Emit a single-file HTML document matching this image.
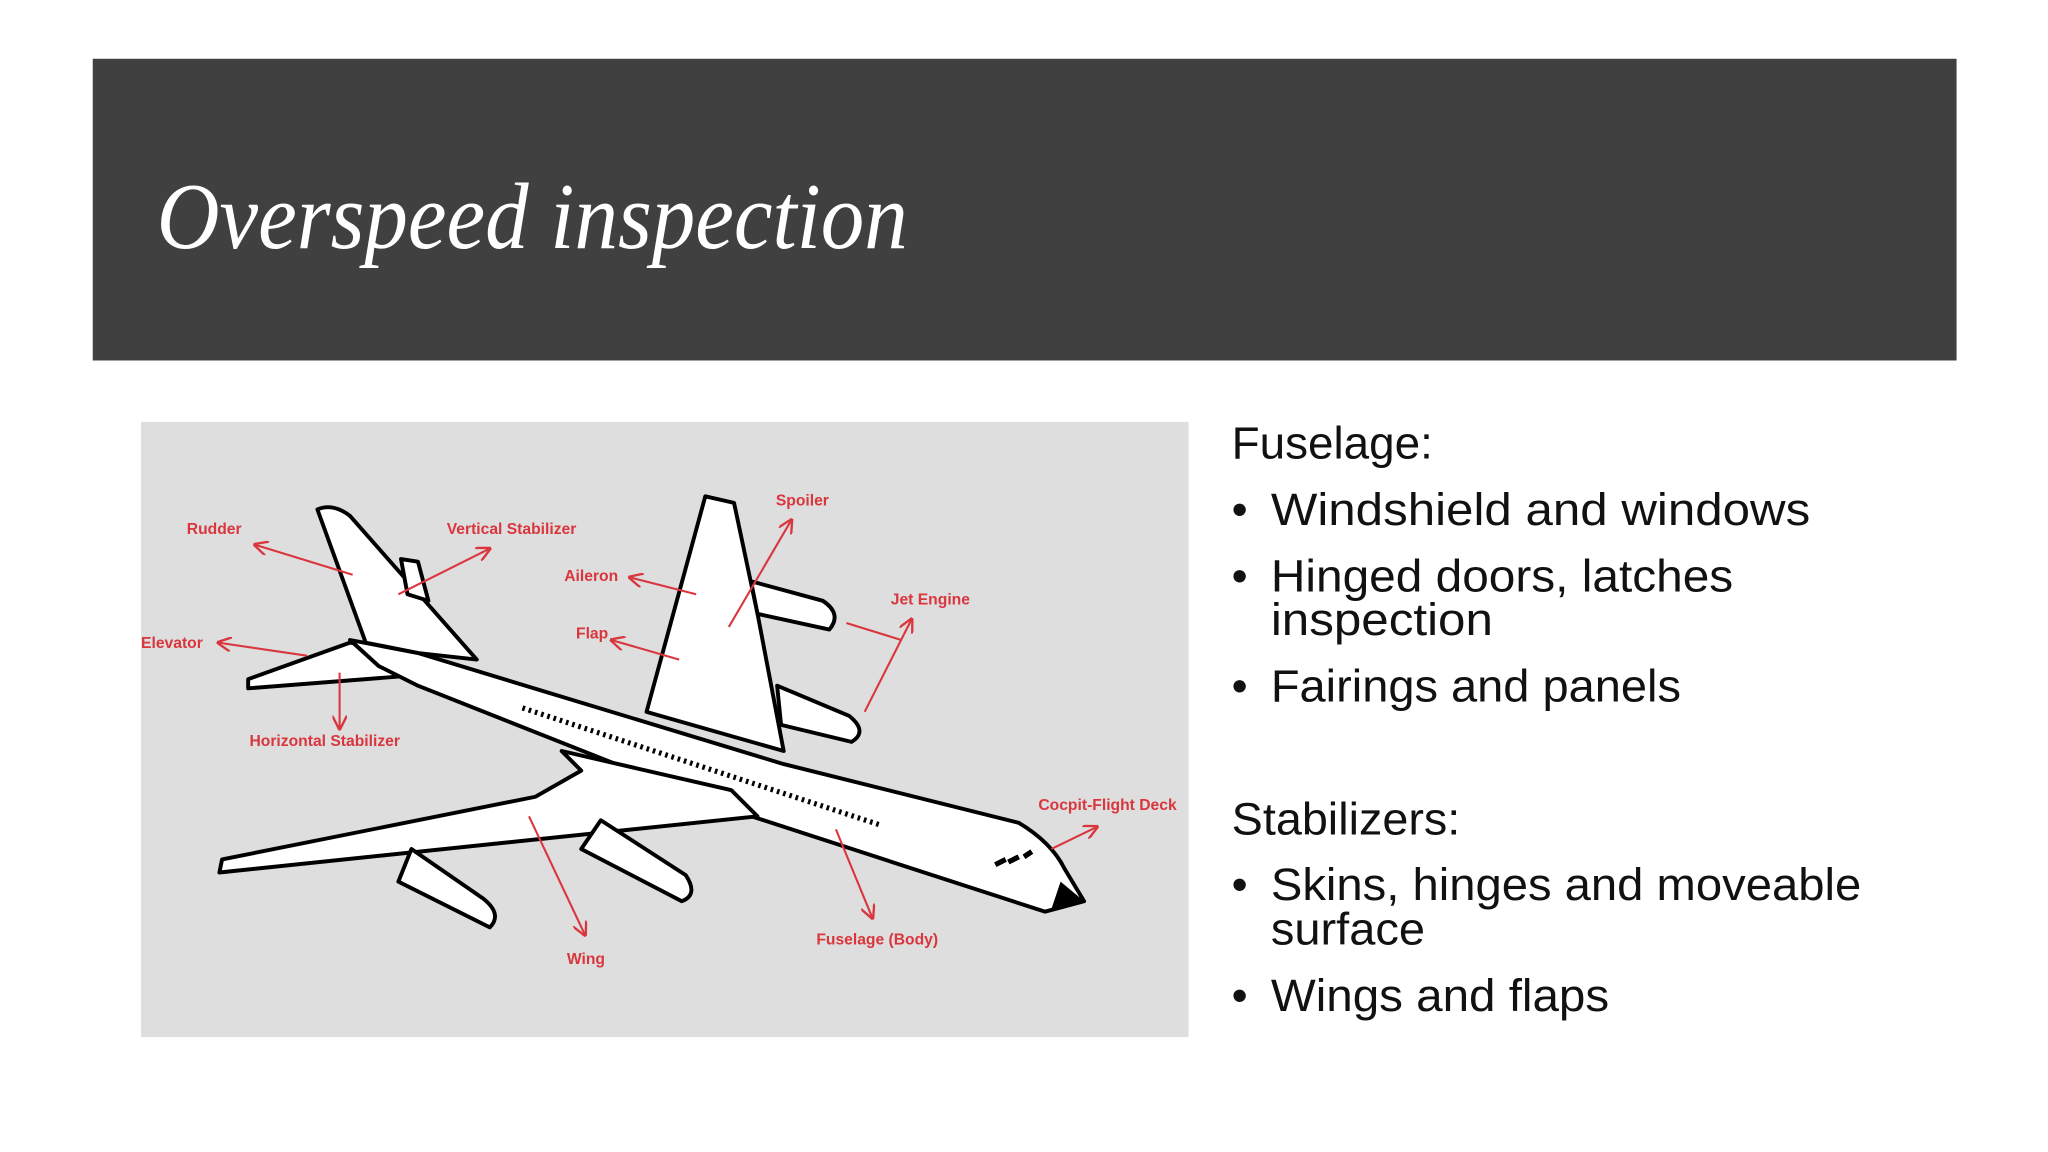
<!DOCTYPE html>
<html><head><meta charset="utf-8"><style>
html,body{margin:0;padding:0;background:#fff;width:2048px;height:1152px;overflow:hidden}
svg{display:block}
.l{font-family:"Liberation Sans",sans-serif;font-weight:bold;font-size:12px;fill:#d9363e}
.t{font-family:"Liberation Sans",sans-serif;font-size:35px;fill:#111}
</style></head><body>
<svg width="2048" height="1152" viewBox="0 0 1568 882" xmlns="http://www.w3.org/2000/svg">
<defs><marker id="a" viewBox="0 0 10 10" refX="9" refY="5" markerWidth="7" markerHeight="7" orient="auto-start-reverse"><path d="M0,0 L10,5 L0,10" fill="none" stroke="#d9363e" stroke-width="1.6"/></marker></defs>
<rect x="71" y="45" width="1427" height="231" fill="#404040"/>
<text x="120" y="190" font-family="Liberation Serif,serif" font-style="italic" font-size="72" fill="#fff" textLength="575" lengthAdjust="spacingAndGlyphs">Overspeed inspection</text>
<rect x="108" y="323" width="802" height="471" fill="#dedede"/>
<g stroke="#000" stroke-width="3" fill="#fff" stroke-linejoin="round">
<path d="M495,545 L540,380 L562,385 L580,470 L600,575 Z"/>
<path d="M575,445 L630,460 Q645,470 635,482 L580,470 Z"/>
<path d="M595,525 L650,548 Q665,560 652,568 L598,555 Z"/>
<path d="M243,390 Q255,385 268,395 L365,505 L320,500 L280,492 Z"/>
<path d="M307,428 L320,430 L328,460 L312,455 Z"/>
<path d="M190,520 L268,492 L310,500 L305,518 L190,527 Z"/>
<path d="M268,490 L320,500 L600,585 L780,630 Q805,645 815,665 L830,690 L800,698 L560,620 L320,525 L290,510 Z"/>
<path d="M430,575 L445,590 L410,610 L170,658 L168,668 L580,625 L560,605 Z"/>
<path d="M315,650 L370,688 Q385,700 375,710 L305,675 Z"/>
<path d="M460,628 L525,670 Q535,685 522,690 L445,650 Z"/>
</g>
<path d="M812,675 L830,690 L805,696 Z" fill="#000"/>
<path d="M400,542 L675,632" stroke="#000" stroke-width="4" stroke-dasharray="2,3"/>
<path d="M762,662 l8,-4 M772,660 l8,-4 M784,656 l6,-4" stroke="#000" stroke-width="4"/>
<g stroke="#d9363e" stroke-width="1.6" fill="none" marker-end="url(#a)">
<line x1="270" y1="440" x2="195" y2="417"/>
<line x1="305" y1="455" x2="375" y2="420"/>
<line x1="235" y1="502" x2="167" y2="492"/>
<line x1="260" y1="515" x2="260" y2="558"/>
<line x1="533" y1="455" x2="482" y2="442"/>
<line x1="520" y1="505" x2="468" y2="490"/>
<line x1="558" y1="480" x2="606" y2="398"/>
<line x1="662" y1="545" x2="698" y2="474"/>
<line x1="805" y1="650" x2="840" y2="633"/>
<line x1="640" y1="635" x2="668" y2="703"/>
<line x1="405" y1="625" x2="448" y2="716"/>
</g>
<line x1="648" y1="477" x2="690" y2="490" stroke="#d9363e" stroke-width="1.6"/>
<text class="l" x="143" y="409">Rudder</text>
<text class="l" x="342" y="409">Vertical Stabilizer</text>
<text class="l" x="594" y="387">Spoiler</text>
<text class="l" x="432" y="445">Aileron</text>
<text class="l" x="682" y="463">Jet Engine</text>
<text class="l" x="441" y="489">Flap</text>
<text class="l" x="108" y="496">Elevator</text>
<text class="l" x="191" y="571">Horizontal Stabilizer</text>
<text class="l" x="795" y="620">Cocpit-Flight Deck</text>
<text class="l" x="625" y="723">Fuselage (Body)</text>
<text class="l" x="434" y="738">Wing</text>
<text class="t" x="943" y="351" textLength="154" lengthAdjust="spacingAndGlyphs">Fuselage:</text>
<text class="t" x="943" y="402">•</text><text class="t" x="973" y="402" textLength="413" lengthAdjust="spacingAndGlyphs">Windshield and windows</text>
<text class="t" x="943" y="453">•</text><text class="t" x="973" y="453" textLength="354" lengthAdjust="spacingAndGlyphs">Hinged doors, latches</text>
<text class="t" x="973" y="486" textLength="170" lengthAdjust="spacingAndGlyphs">inspection</text>
<text class="t" x="943" y="537">•</text><text class="t" x="973" y="537" textLength="314" lengthAdjust="spacingAndGlyphs">Fairings and panels</text>
<text class="t" x="943" y="639" textLength="175" lengthAdjust="spacingAndGlyphs">Stabilizers:</text>
<text class="t" x="943" y="689">•</text><text class="t" x="973" y="689" textLength="452" lengthAdjust="spacingAndGlyphs">Skins, hinges and moveable</text>
<text class="t" x="973" y="723" textLength="118" lengthAdjust="spacingAndGlyphs">surface</text>
<text class="t" x="943" y="774">•</text><text class="t" x="973" y="774" textLength="259" lengthAdjust="spacingAndGlyphs">Wings and flaps</text>
</svg>
</body></html>
